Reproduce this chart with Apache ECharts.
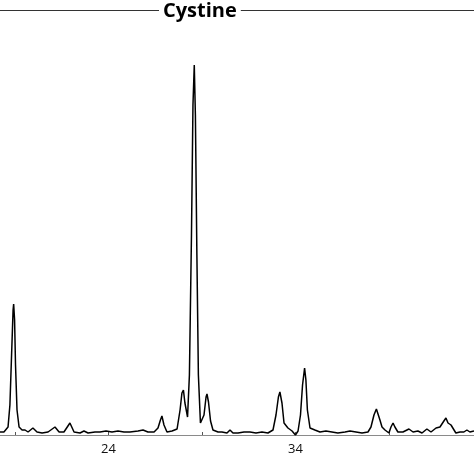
<!DOCTYPE html>
<html>
<head>
<meta charset="utf-8">
<script src="https://cdn.jsdelivr.net/npm/echarts@6/dist/echarts.min.js"></script>
<style>
  html, body { margin: 0; padding: 0; background: #fff; }
  #chart { width: 474px; height: 474px; }
</style>
</head>
<body>
<div id="chart"></div>
<script>
// XRD pattern of cystine, 2theta (deg) vs intensity (a.u.)
const twoTheta = [
  18.20, 18.41, 18.63, 18.73, 18.81, 18.90, 18.93, 18.98, 19.03, 19.11,
  19.22, 19.38, 19.54, 19.70, 19.96, 20.18, 20.45, 20.77, 21.14, 21.36,
  21.62, 21.94, 22.16, 22.48, 22.69, 22.91, 23.28, 23.55, 23.87, 24.19,
  24.51, 24.83, 25.15, 25.58, 25.85, 26.11, 26.44, 26.65, 26.78, 26.86,
  26.97, 27.13, 27.40, 27.67, 27.83, 27.93, 28.01, 28.09, 28.23, 28.33,
  28.44, 28.52, 28.59, 28.65, 28.73, 28.81, 28.92, 29.00, 29.11, 29.22,
  29.27, 29.35, 29.46, 29.59, 29.86, 30.07, 30.34, 30.50, 30.66, 30.93,
  31.25, 31.57, 31.89, 32.21, 32.53, 32.80, 32.96, 33.09, 33.17, 33.28,
  33.39, 33.60, 33.82, 34.00, 34.14, 34.27, 34.38, 34.49, 34.56, 34.64,
  34.78, 35.04, 35.31, 35.63, 35.95, 36.27, 36.65, 36.92, 37.24, 37.56,
  37.88, 38.04, 38.20, 38.33, 38.41, 38.52, 38.63, 38.79, 39.00, 39.11,
  39.22, 39.32, 39.48, 39.75, 40.07, 40.29, 40.55, 40.77, 41.03, 41.25,
  41.52, 41.73, 41.94, 42.05, 42.16, 42.32, 42.42, 42.58, 42.80, 43.01,
  43.17, 43.33, 43.55
];
const intensity = [
  3, 3, 8, 30, 75, 125, 131, 115, 70, 25,
  8, 5, 5, 3, 7, 3, 2, 3, 8, 3,
  3, 12, 3, 2, 4, 2, 3, 3, 4, 3,
  4, 3, 3, 4, 5, 3, 3, 7, 15, 19,
  10, 3, 4, 6, 25, 42, 45, 32, 18, 60,
  200, 330, 370, 320, 180, 60, 12, 10, 20, 38,
  41, 33, 14, 5, 3, 3, 2, 5, 2, 2,
  3, 3, 2, 3, 2, 5, 20, 38, 43, 32,
  12, 7, 4, 0, 4, 20, 50, 67, 55, 25,
  7, 5, 3, 4, 3, 2, 3, 4, 3, 2,
  3, 8, 20, 26, 27, 15, 8, 5, 2, 8,
  12, 8, 3, 3, 6, 3, 4, 2, 6, 3,
  7, 8, 14, 17, 12, 10, 8, 2, 3, 3,
  5, 3, 4
];
const tickValues = [19, 24, 29, 34, 39];
const labelValues = [24, 34];
const titleText = 'Cystine';

const chart = echarts.init(document.getElementById('chart'), null, { renderer: 'canvas' });

const option = {
  backgroundColor: '#fff',
  animation: false,
  title: {
    text: titleText,
    left: 159,
    top: 1,
    padding: [0, 4],
    backgroundColor: '#fff',
    z: 10,
    textStyle: {
      fontFamily: 'Open Sans',
      fontWeight: 'bold',
      fontSize: 20,
      color: '#000'
    }
  },
  grid: { left: 0, right: 0, top: 10, bottom: 39 },
  xAxis: [
    {
      type: 'value',
      min: 18.2,
      max: 43.55,
      splitLine: { show: false },
      axisLine: { lineStyle: { color: '#8a8a8a', width: 1 } },
      axisTick: {
        inside: true,
        length: 3,
        customValues: tickValues,
        lineStyle: { color: '#555' }
      },
      axisLabel: {
        customValues: labelValues,
        margin: 8,
        fontFamily: 'Open Sans',
        fontSize: 13,
        color: '#111'
      }
    },
    {
      type: 'value',
      position: 'top',
      min: 18.2,
      max: 43.55,
      splitLine: { show: false },
      axisLine: { show: true, lineStyle: { color: '#333', width: 1.2 } },
      axisTick: { show: false },
      axisLabel: { show: false }
    }
  ],
  yAxis: {
    type: 'value',
    min: 0,
    max: 425,
    show: false
  },
  series: [{
    type: 'line',
    data: twoTheta.map((t, i) => [t, intensity[i]]),
    showSymbol: false,
    lineStyle: { color: '#000', width: 1.5 }
  }]
};

chart.setOption(option);
</script>
</body>
</html>
